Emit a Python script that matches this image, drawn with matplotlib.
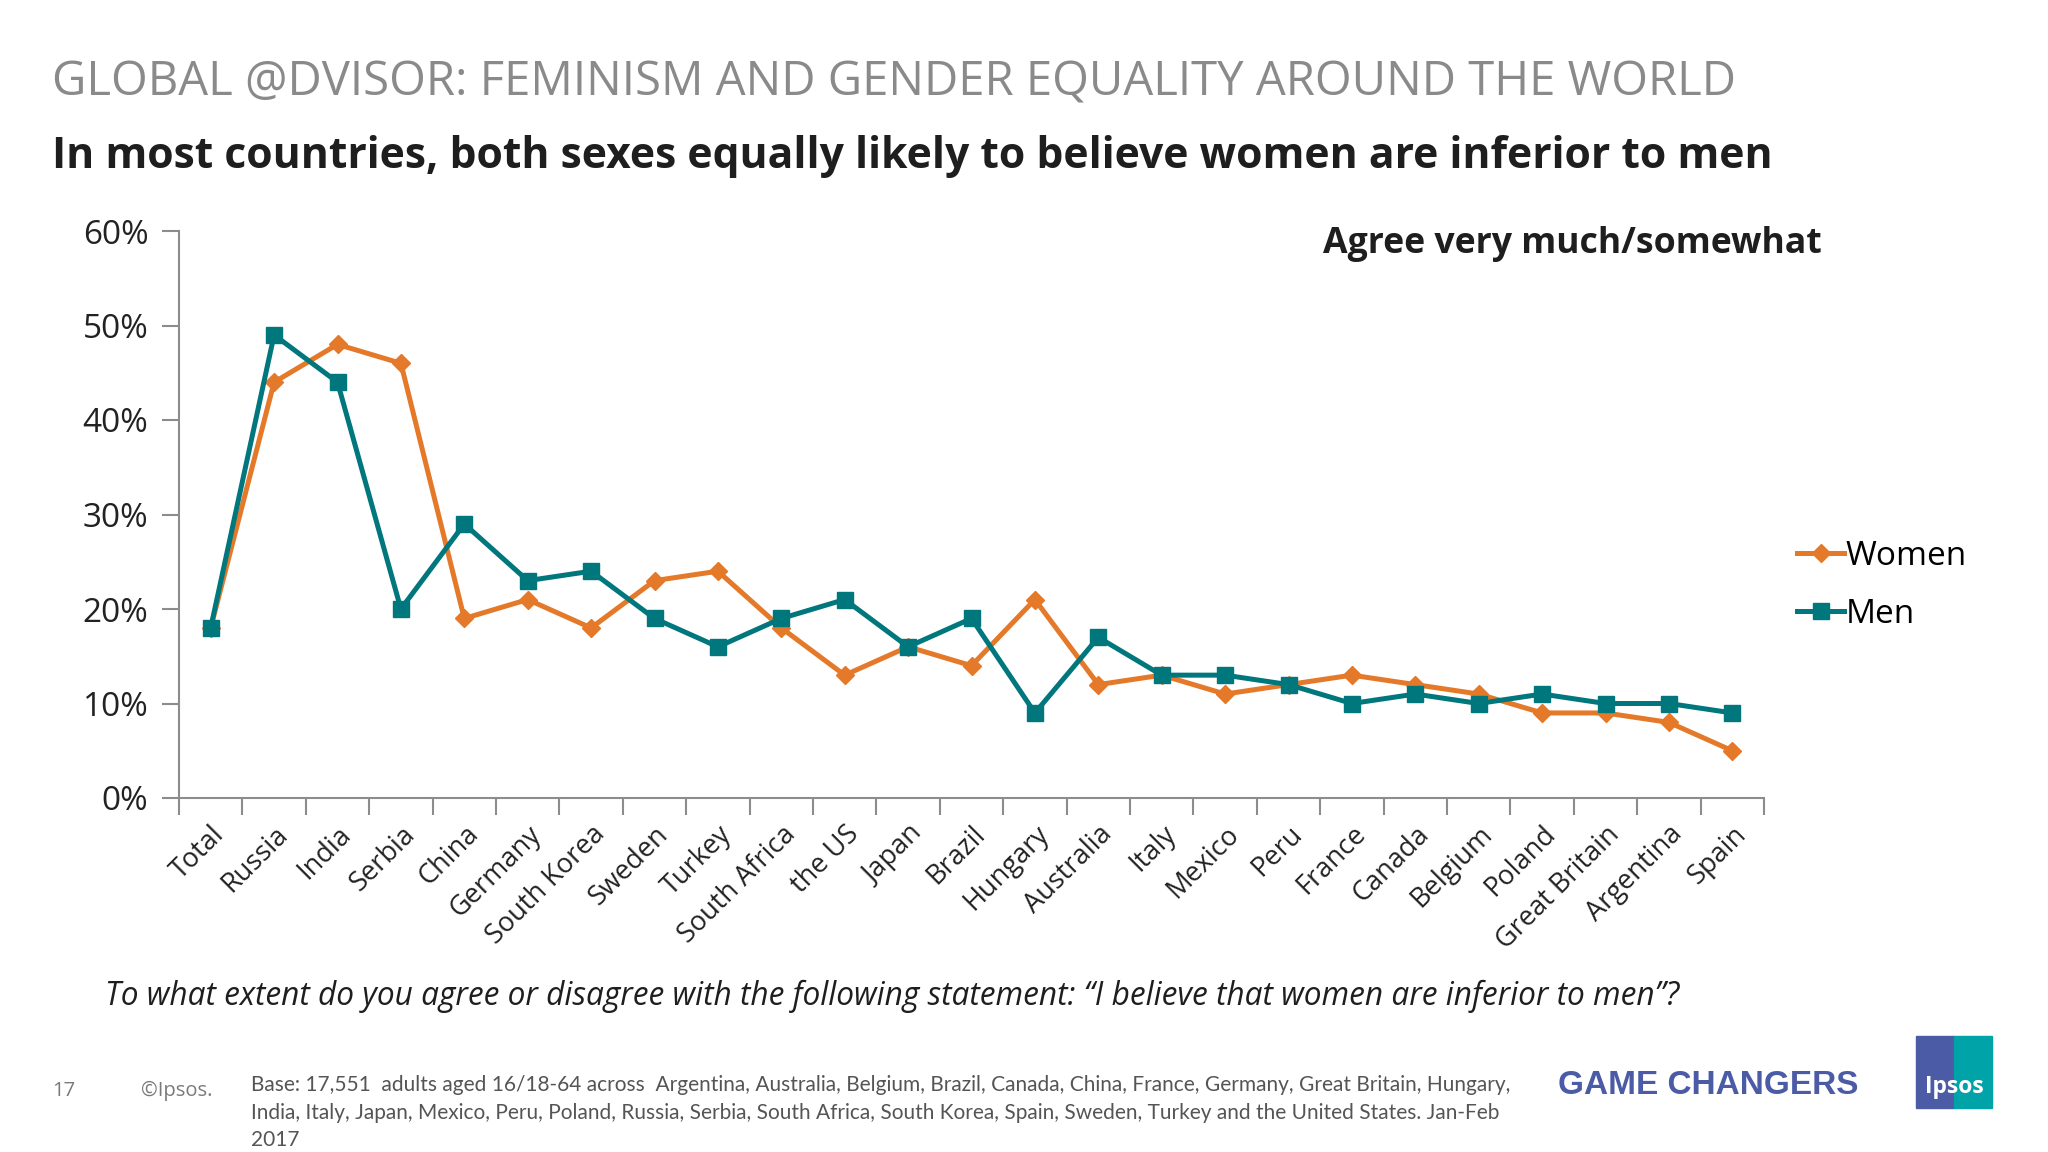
import matplotlib.pyplot as plt
from matplotlib.patches import Rectangle
from matplotlib.ticker import PercentFormatter

countries = ["Total", "Russia", "India", "Serbia", "China", "Germany", "South Korea",
             "Sweden", "Turkey", "South Africa", "the US", "Japan", "Brazil", "Hungary",
             "Australia", "Italy", "Mexico", "Peru", "France", "Canada", "Belgium",
             "Poland", "Great Britain", "Argentina", "Spain"]
women = [18, 44, 48, 46, 19, 21, 18, 23, 24, 18, 13, 16, 14, 21, 12, 13, 11, 12, 13,
         12, 11, 9, 9, 8, 5]
men = [18, 49, 44, 20, 29, 23, 24, 19, 16, 19, 21, 16, 19, 9, 17, 13, 13, 12, 10,
       11, 10, 11, 10, 10, 9]
y_ticks = [0, 10, 20, 30, 40, 50, 60]

orange = "#E5792A"
teal = "#00767D"
grey_axis = "#8C8C8C"

plt.rcParams['font.family'] = ['Open Sans', 'DejaVu Sans']

fig = plt.figure(figsize=(20.48, 11.52), dpi=100)
ax = fig.add_axes([179 / 2048, 1 - 798 / 1152, (1764 - 179) / 2048, (798 - 231) / 1152])

x = list(range(len(countries)))
ax.plot(x, women, color=orange, lw=3.6, marker="D", ms=9.5, label="Women", zorder=3)
ax.plot(x, men, color=teal, lw=3.6, marker="s", ms=11.5, label="Men", zorder=4)

ax.set_xlim(-0.5, len(countries) - 0.5)
ax.set_ylim(0, 60)
ax.set_yticks(y_ticks)
ax.yaxis.set_major_formatter(PercentFormatter(decimals=0))
ax.tick_params(axis="y", labelsize=24, length=12, width=1.5, colors="#222222", pad=10)
ax.tick_params(axis="y", color=grey_axis)

ax.set_xticks(x)
ax.set_xticklabels(countries, rotation=45, ha="right", rotation_mode="anchor",
                   fontsize=19.5, color="#222222")
ax.tick_params(axis="x", which="major", length=0, pad=16)
ax.set_xticks([i - 0.5 for i in range(len(countries) + 1)], minor=True)
ax.tick_params(axis="x", which="minor", length=12, width=1.5, color=grey_axis)

for s in ["top", "right"]:
    ax.spines[s].set_visible(False)
for s in ["left", "bottom"]:
    ax.spines[s].set_color(grey_axis)
    ax.spines[s].set_linewidth(1.5)

leg = ax.legend(loc="center left", bbox_to_anchor=(1.002, 0.375), frameon=False,
                fontsize=24, handlelength=1.4, handletextpad=0.05, labelspacing=0.75)

fig.text(52 / 2048, 1 - 83 / 1152,
         "GLOBAL @DVISOR: FEMINISM AND GENDER EQUALITY AROUND THE WORLD",
         fontsize=34, color="#8A8A8A", va="center", ha="left")
fig.text(52 / 2048, 1 - 157 / 1152,
         "In most countries, both sexes equally likely to believe women are inferior to men",
         fontsize=30.7, fontweight="bold", color="#1E1E1E", va="center", ha="left")
fig.text(1822 / 2048, 1 - 244 / 1152, "Agree very much/somewhat",
         fontsize=25.7, fontweight="bold", color="#1E1E1E", va="center", ha="right")
fig.text(105 / 2048, 1 - 996 / 1152,
         "To what extent do you agree or disagree with the following statement: "
         "\u201cI believe that women are inferior to men\u201d?",
         fontsize=22.8, style="italic", color="#1E1E1E", va="center", ha="left")

fig.text(52 / 2048, 1 - 1091 / 1152, "17", fontsize=14.5, color="#7A7A7A", va="center")
fig.text(141 / 2048, 1 - 1091 / 1152, "\u00a9Ipsos.", fontsize=14.5, color="#7A7A7A",
         va="center")
fig.text(251 / 2048, 1 - 1075 / 1152,
         "Base: 17,551  adults aged 16/18-64 across  Argentina, Australia, Belgium, Brazil, "
         "Canada, China, France, Germany, Great Britain, Hungary,\n"
         "India, Italy, Japan, Mexico, Peru, Poland, Russia, Serbia, South Africa, South Korea, "
         "Spain, Sweden, Turkey and the United States. Jan-Feb\n2017",
         family="Lato", fontsize=15, color="#555555", va="top", ha="left",
         linespacing=1.48)

fig.text(1558 / 2048, 1 - 1085 / 1152, "GAME CHANGERS", family="Liberation Sans",
         fontsize=24, fontweight="bold", color="#4B5BA6", va="center", ha="left")

# Ipsos logo block
fig.patches.append(Rectangle((1916 / 2048, 1 - 1108 / 1152), 38 / 2048, 72 / 1152,
                             transform=fig.transFigure, color="#4B5BA6"))
fig.patches.append(Rectangle((1954 / 2048, 1 - 1108 / 1152), 38 / 2048, 72 / 1152,
                             transform=fig.transFigure, color="#00A3A8"))
fig.text(1954 / 2048, 1 - 1087 / 1152, "Ipsos", fontsize=16.5, fontweight="bold",
         color="white", ha="center", va="center")

fig.savefig("out.png", dpi=100)
